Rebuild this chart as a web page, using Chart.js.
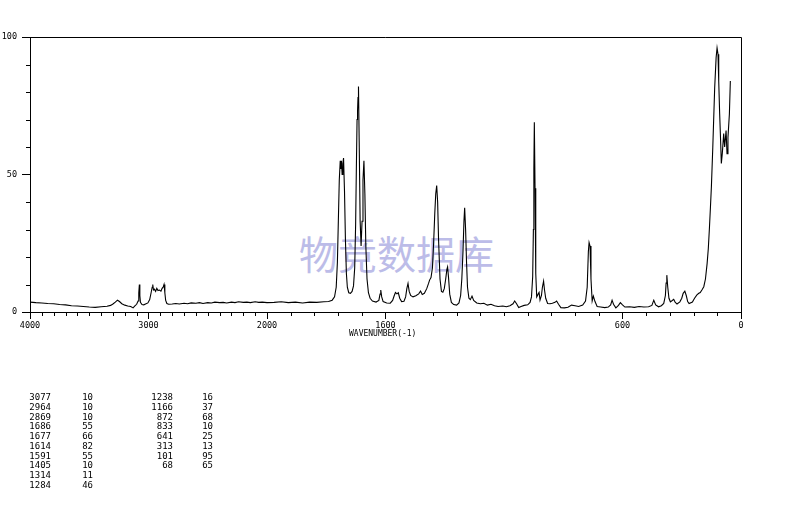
<!DOCTYPE html>
<html>
<head>
<meta charset="utf-8">
<script src="https://cdn.jsdelivr.net/npm/chart.js@4.4.1/dist/chart.umd.min.js"></script>
<style>
html, body { margin: 0; padding: 0; background: #fff; }
#wrap { position: relative; width: 794px; height: 510px; overflow: hidden; }
#wm { position: absolute; left: 299px; top: 233px; font-family: "Noto Sans CJK SC", sans-serif; font-size: 39px; line-height: 39px; color: #bcbce8; white-space: nowrap; }
#c { position: absolute; left: 0; top: 0; }
#xtitle { position: absolute; left: 349px; top: 329px; font-family: "DejaVu Sans Mono", monospace; font-size: 8px; line-height: 9px; color: #000; white-space: pre; }
.t { position: absolute; font-family: "DejaVu Sans Mono", monospace; font-size: 9px; line-height: 10px; color: #000; white-space: pre; }
</style>
</head>
<body>
<div id="wrap">
  <div id="wm">物竞数据库</div>
  <canvas id="c" width="794" height="510"></canvas>
  <div id="xtitle">WAVENUMBER(-1)</div>
  <div id="tbl"></div>
</div>
<script>
// ---------- data ----------
const wavenumbers = [
  4000,3950,3900,3850,3800,3750,3700,3650,3600,3550,3500,3450,3400,3350,3320,3300,3280,3262,3245,3225,
  3200,3175,3150,3130,3115,3100,3088,3082,3077,3073,3068,3055,3040,3025,3005,2990,2978,2969,2964,2958,
  2950,2940,2930,2920,2908,2895,2885,2875,2869,2862,2855,2845,2830,2800,2770,2740,2700,2670,2640,2600,
  2570,2540,2500,2470,2440,2400,2370,2340,2300,2270,2240,2200,2170,2140,2100,2070,2040,2000,
  1970,1940,1910,1880,1850,1820,1790,1760,1740,1725,1715,1708,1703,1699,1695,1691,1688,1686,1683,1680,
  1677,1673,1669,1665,1661,1655,1648,1641,1635,1630,1626,1623,1620,1618,1616,1614,1611,1607,1603,1599,
  1595,1591,1587,1583,1578,1572,1565,1555,1540,1528,1523,1520,1516,1510,1495,1480,1470,1463,1458,1452,
  1446,1440,1432,1422,1415,1410,1405,1400,1394,1384,1372,1360,1352,1345,1336,1326,1318,1314,1308,1302,
  1297,1292,1288,1284,1280,1276,1270,1264,1258,1252,1246,1241,1238,1234,1229,1222,1212,1200,1190,1183,
  1178,1173,1169,1166,1162,1158,1154,1148,1142,1135,1128,1115,1100,1085,1070,1055,1040,1025,1005,990,
  975,962,955,947,938,928,915,900,890,884,879,876,874,872,869,866,862,856,852,848,
  842,838,833,829,824,816,806,796,785,778,770,760,745,730,715,700,685,668,656,649,
  644,641,637,633,628,623,616,607,592,575,560,550,544,538,528,517,509,500,490,470,
  450,430,410,390,376,368,360,348,336,326,319,316,313,309,304,298,290,284,278,270,
  258,250,244,237,231,225,219,205,196,186,178,172,165,157,150,143,138,133,129,125,
  119,111,105,101,97,94,90,86,83,79,73,69,63,59,55,49,45
];
const intensities = [
  3.6,3.4,3.3,3.1,3.0,2.7,2.6,2.3,2.2,2.0,1.8,1.7,1.9,2.1,2.4,2.9,3.6,4.3,3.8,3.0,
  2.5,2.2,2.0,1.5,2.2,2.8,4.0,7.0,10,6.0,3.5,2.7,2.6,2.9,3.3,4.5,7.0,9.0,10,8.0,
  8.3,7.5,8.6,7.8,8.0,7.6,8.6,9.2,10,7.0,4.2,3.1,2.8,2.9,3.1,2.9,3.2,3.0,3.3,3.2,
  3.4,3.1,3.4,3.3,3.6,3.4,3.5,3.3,3.6,3.4,3.7,3.5,3.6,3.4,3.7,3.5,3.6,3.4,
  3.5,3.7,3.4,3.6,3.3,3.6,3.5,3.7,3.8,4.3,5.5,9,18,33,48,55,52,55,50,54,
  56,44,26,14,9,7.0,6.8,7.5,9.5,16,32,52,70,73,78,82,62,33,24,33,
  48,55,43,24,12,7,5,4.0,3.6,4.2,6.5,8,5.5,3.8,3.3,3.2,4.2,6.0,7.1,6.6,
  7.0,5.0,3.8,3.9,5.5,8.5,10.4,7.5,6.0,5.5,5.9,6.6,7.6,6.4,6.8,8.5,10.5,11.6,12.5,16,
  25,36,43,46,40,26,12,7.5,7.2,8.5,12,15.5,16.4,12.5,6.5,3.5,2.7,2.5,3.3,6.0,
  12,22,33,37.9,30,18,9,5.0,4.5,5.8,4.2,3.3,3.0,3.2,2.5,2.8,2.3,2.0,2.2,1.9,
  2.3,3.0,4.0,3.0,1.6,2.0,2.4,2.6,3.5,5.5,12.8,30,52,69,45,14,5.5,6.5,7.1,4.3,
  6,9,11.2,8.0,5.0,3.1,3.0,3.2,3.5,4.0,2.8,1.6,1.5,1.7,2.5,2.3,2.0,2.5,4.0,9,
  22,25.3,24,12,4.0,5.8,3.8,2.0,1.8,1.6,1.8,2.6,4.3,2.8,1.5,2.4,3.4,2.6,1.8,1.9,
  1.7,2.0,1.8,1.9,2.4,4.3,2.6,1.9,2.3,3.1,6.0,10.5,13.4,9,5.0,3.7,4.2,4.6,3.6,2.9,
  3.7,5.0,6.8,7.6,6.0,3.8,3.1,3.6,5.0,6.2,6.8,7.1,8.0,9.2,12,17.6,23,30.9,38,45.4,
  59.9,81.6,92.5,96,93.7,84,72,62.3,54,57.6,64.9,60,66,57.6,63.5,72,84
];

// axis ticks
const xTickValues = [4000, 3000, 2000, 1500, 500, 0];
const xTickLabels = ['4000', '3000', '2000', '1600', '600', '0'];
const yTickValues = [0, 50, 100];
const yTickLabels = ['0', '50', '100'];
const xMinorStep = 100;
const yMinorStep = 10;

// peak table
const peakWavenumbers = [3077,2964,2869,1686,1677,1614,1591,1405,1314,1284,1238,1166,872,833,641,313,101,68];
const peakIntensities = [10,10,10,55,66,82,55,10,11,46,16,37,68,10,25,13,95,65];

// ---------- custom split wavenumber scale (4000-2000 compressed, 2000-0 expanded) ----------
const X_MAX = 4000, X_BREAK = 2000, X_MIN = 0;
class SplitWavenumberScale extends Chart.LinearScale {
  getPixelForValue(value) {
    let d;
    if (value >= X_BREAK) d = (X_MAX - value) / (X_MAX - X_BREAK) / 3;
    else d = 1 / 3 + (X_BREAK - value) / (X_BREAK - X_MIN) * 2 / 3;
    return this.getPixelForDecimal(d);
  }
  getValueForPixel(pixel) {
    const d = this.getDecimalForPixel(pixel);
    if (d <= 1 / 3) return X_MAX - d * 3 * (X_MAX - X_BREAK);
    return X_BREAK - (d - 1 / 3) * 1.5 * (X_BREAK - X_MIN);
  }
}
SplitWavenumberScale.id = 'splitWavenumber';
SplitWavenumberScale.defaults = Chart.LinearScale.defaults;
Chart.register(SplitWavenumberScale);

// ---------- plugin: minor ticks + frame ----------
const framePlugin = {
  id: 'framePlugin',
  afterDraw(chart) {
    const { ctx, chartArea: a, scales: { x, y } } = chart;
    ctx.save();
    ctx.strokeStyle = '#000';
    ctx.lineWidth = 1;
    ctx.beginPath();
    for (let w = X_MIN; w <= X_MAX; w += xMinorStep) {
      if (xTickValues.includes(w)) continue;
      const px = Math.round(x.getPixelForValue(w)) + 0.5;
      ctx.moveTo(px, a.bottom);
      ctx.lineTo(px, a.bottom + 4);
    }
    for (let v = 0; v <= 100; v += yMinorStep) {
      if (yTickValues.includes(v)) continue;
      const py = Math.round(y.getPixelForValue(v)) + 0.5;
      ctx.moveTo(a.left - 4, py);
      ctx.lineTo(a.left, py);
    }
    const top = Math.round(a.top) + 0.5, right = Math.round(a.right) + 0.5;
    ctx.moveTo(a.left, top);
    ctx.lineTo(right, top);
    ctx.lineTo(right, Math.round(a.bottom) + 0.5);
    ctx.stroke();
    ctx.restore();
  }
};

const tickFont = { family: 'DejaVu Sans Mono', size: 8.5 };

new Chart(document.getElementById('c'), {
  type: 'line',
  data: {
    datasets: [{
      data: wavenumbers.map((w, i) => ({ x: w, y: intensities[i] })),
      borderColor: '#000',
      borderWidth: 1.1,
      pointRadius: 0,
      tension: 0,
      fill: false
    }]
  },
  options: {
    responsive: false,
    devicePixelRatio: 1,
    animation: false,
    events: [],
    layout: { padding: { top: 37, right: 53, left: 0, bottom: 0 } },
    plugins: { legend: { display: false }, tooltip: { enabled: false } },
    scales: {
      x: {
        type: 'splitWavenumber',
        min: X_MIN, max: X_MAX,
        afterBuildTicks: s => { s.ticks = xTickValues.map(v => ({ value: v })); },
        afterFit: s => { s.height = 198; },
        ticks: {
          autoSkip: false, maxRotation: 0, padding: 2, color: '#000', font: tickFont,
          callback: (v, i) => xTickLabels[i]
        },
        grid: { display: true, drawOnChartArea: false, drawTicks: true, tickLength: 7, color: '#000', tickColor: '#000' },
        border: { display: true, color: '#000', width: 1 }
      },
      y: {
        type: 'linear',
        min: 0, max: 100,
        afterBuildTicks: s => { s.ticks = yTickValues.map(v => ({ value: v })); },
        afterFit: s => { s.width = 30; },
        ticks: {
          autoSkip: false, padding: 5, color: '#000', font: tickFont,
          callback: (v, i) => yTickLabels[i]
        },
        grid: { display: true, drawOnChartArea: false, drawTicks: true, tickLength: 8, color: '#000', tickColor: '#000' },
        border: { display: true, color: '#000', width: 1 }
      }
    }
  },
  plugins: [framePlugin]
});

// ---------- peak table ----------
const tbl = document.getElementById('tbl');
const rowsPerCol = 10;
const colRight = [[51, 93], [173, 213]];
peakWavenumbers.forEach((w, i) => {
  const col = i < rowsPerCol ? 0 : 1;
  const row = i % rowsPerCol;
  const top = 392 + row * 9.75;
  const a = document.createElement('div');
  a.className = 't';
  a.textContent = String(w);
  a.style.top = top + 'px';
  a.style.right = (794 - colRight[col][0]) + 'px';
  const b = document.createElement('div');
  b.className = 't';
  b.textContent = String(peakIntensities[i]);
  b.style.top = top + 'px';
  b.style.right = (794 - colRight[col][1]) + 'px';
  tbl.appendChild(a);
  tbl.appendChild(b);
});
</script>
</body>
</html>
